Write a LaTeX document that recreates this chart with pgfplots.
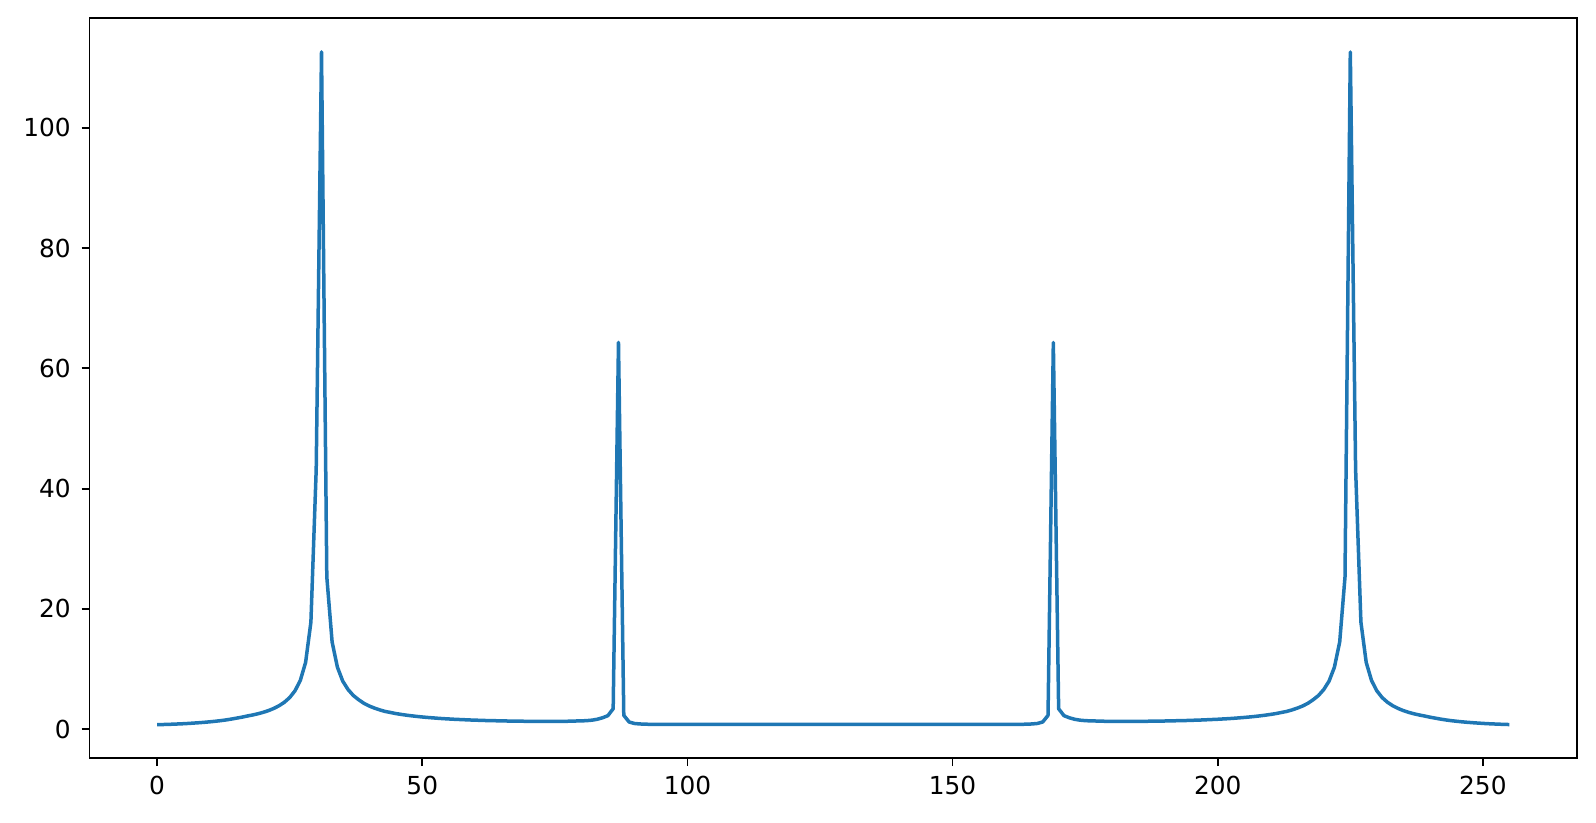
\documentclass[border=0pt]{standalone}
\usepackage{pgfplots}
\pgfplotsset{compat=1.18}
\usepackage{fontspec}
\setmainfont{DejaVu Sans}
\definecolor{mplblue}{HTML}{1F77B4}
\begin{document}
\begin{tikzpicture}
\begin{axis}[
  scale only axis,
  width=743.75pt, height=370pt,
  xmin=-12.75, xmax=267.75,
  ymin=-4.84, ymax=118.2,
  xtick={0,50,100,150,200,250},
  ytick={0,20,40,60,80,100},
  tick pos=left,
  tick align=outside,
  major tick length=3.9pt,
  every tick/.style={black, line width=0.9pt},
  axis line style={black, line width=0.9pt},
  tick label style={font=\fontsize{12.4}{14}\selectfont, /pgf/number format/assume math mode=true},
  xticklabel style={yshift=-1.5pt},
  yticklabel style={xshift=-2pt},
  clip=true,
]
\coordinate (sw) at (rel axis cs:0,0);
\coordinate (ne) at (rel axis cs:1,1);
\addplot[mplblue, line width=1.75pt, line join=round] coordinates {
(0,0.75)(1,0.77)(2,0.80)(3,0.83)(4,0.87)(5,0.91)(6,0.96)(7,1.02)(8,1.08)(9,1.15)
(10,1.23)(11,1.32)(12,1.42)(13,1.54)(14,1.68)(15,1.84)(16,2.00)(17,2.19)(18,2.36)(19,2.56)
(20,2.80)(21,3.09)(22,3.45)(23,3.90)(24,4.48)(25,5.26)(26,6.38)(27,8.10)(28,11.1)(29,17.8)
(30,43.2)(31,112.6)(32,25.3)(33,14.5)(34,10.3)(35,8.0)(36,6.6)(37,5.6)(38,4.9)(39,4.3)
(40,3.85)(41,3.5)(42,3.2)(43,2.95)(44,2.78)(45,2.6)(46,2.46)(47,2.33)(48,2.22)(49,2.12)
(50,2.03)(51,1.95)(52,1.88)(53,1.81)(54,1.75)(55,1.70)(56,1.65)(57,1.61)(58,1.57)(59,1.53)
(60,1.50)(61,1.47)(62,1.44)(63,1.42)(64,1.40)(65,1.38)(66,1.36)(67,1.34)(68,1.33)(69,1.32)
(70,1.31)(71,1.30)(72,1.29)(73,1.29)(74,1.29)(75,1.29)(76,1.30)(77,1.31)(78,1.33)(79,1.36)
(80,1.38)(81,1.42)(82,1.50)(83,1.65)(84,1.90)(85,2.25)(86,3.4)(87,64.3)(88,2.3)(89,1.2)
(90,0.95)(91,0.87)(92,0.83)(93,0.81)(94,0.80)(95,0.79)(96,0.79)(97,0.79)(98,0.79)(99,0.79)
(100,0.79)(101,0.79)(102,0.79)(103,0.79)(104,0.79)(105,0.79)(106,0.79)(107,0.79)(108,0.79)(109,0.79)
(110,0.79)(111,0.78)(112,0.78)(113,0.78)(114,0.78)(115,0.78)(116,0.78)(117,0.78)(118,0.78)(119,0.78)
(120,0.78)(121,0.78)(122,0.78)(123,0.78)(124,0.78)(125,0.78)(126,0.78)(127,0.78)(128,0.78)(129,0.78)
(130,0.78)(131,0.78)(132,0.78)(133,0.78)(134,0.78)(135,0.78)(136,0.78)(137,0.78)(138,0.78)(139,0.78)
(140,0.78)(141,0.78)(142,0.78)(143,0.78)(144,0.78)(145,0.78)(146,0.79)(147,0.79)(148,0.79)(149,0.79)
(150,0.79)(151,0.79)(152,0.79)(153,0.79)(154,0.79)(155,0.79)(156,0.79)(157,0.79)(158,0.79)(159,0.79)
(160,0.79)(161,0.79)(162,0.80)(163,0.81)(164,0.83)(165,0.87)(166,0.95)(167,1.2)(168,2.3)(169,64.3)
(170,3.4)(171,2.25)(172,1.90)(173,1.65)(174,1.50)(175,1.42)(176,1.38)(177,1.36)(178,1.33)(179,1.31)
(180,1.30)(181,1.29)(182,1.29)(183,1.29)(184,1.29)(185,1.30)(186,1.31)(187,1.32)(188,1.33)(189,1.34)
(190,1.36)(191,1.38)(192,1.40)(193,1.42)(194,1.44)(195,1.47)(196,1.50)(197,1.53)(198,1.57)(199,1.61)
(200,1.65)(201,1.70)(202,1.75)(203,1.81)(204,1.88)(205,1.95)(206,2.03)(207,2.12)(208,2.22)(209,2.33)
(210,2.46)(211,2.6)(212,2.78)(213,2.95)(214,3.2)(215,3.5)(216,3.85)(217,4.3)(218,4.9)(219,5.6)
(220,6.6)(221,8.0)(222,10.3)(223,14.5)(224,25.3)(225,112.6)(226,43.2)(227,17.8)(228,11.1)(229,8.10)
(230,6.38)(231,5.26)(232,4.48)(233,3.90)(234,3.45)(235,3.09)(236,2.80)(237,2.56)(238,2.36)(239,2.19)
(240,2.00)(241,1.84)(242,1.68)(243,1.54)(244,1.42)(245,1.32)(246,1.23)(247,1.15)(248,1.08)(249,1.02)
(250,0.96)(251,0.91)(252,0.87)(253,0.83)(254,0.80)(255,0.77)
};
\end{axis}
\pgfresetboundingbox
\path[use as bounding box] ([shift={(-44.75pt,-32pt)}]sw) rectangle ([shift={(9.5pt,9.15pt)}]ne);
\end{tikzpicture}
\end{document}
